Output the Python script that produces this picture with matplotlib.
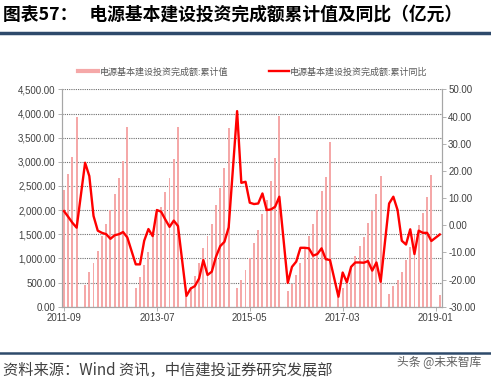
import matplotlib as mpl
mpl.rcParams['figure.dpi'] = 100
mpl.rcParams['savefig.dpi'] = 100
import matplotlib.pyplot as plt
import numpy as np
import pandas as pd
from matplotlib.ticker import FuncFormatter
from matplotlib.lines import Line2D

plt.rcParams['font.family'] = ['Liberation Sans', 'Noto Sans CJK SC', 'DejaVu Sans']

# 月份：2011-09 至 2019-02（1月无数据）
meses = [p.strftime('%Y-%m') for p in pd.period_range('2011-09', '2019-02', freq='M')]

# 电源基本建设投资完成额：累计值（亿元）
leiji = [2420, 2750, 3090, 3920,
         None, 440, 720, 900, 1145, 1455, 1710, 2000, 2335, 2675, 3010, 3725,
         None, 390, 621, 855, 1130, 1480, 1970, 2060, 2380, 2657, 3060, 3713,
         None, 220, 400, 640, 900, 1210, 1470, 1712, 2108, 2450, 2870, 3692,
         None, 395, 552, 766, 1000, 1311, 1580, 1912, 2218, 2595, 3071, 3948,
         None, 324, 462, 656, 911, 1187, 1463, 1712, 2001, 2395, 2692, 3402,
         None, 207, 380, 587, 828, 1056, 1263, 1449, 1725, 1981, 2326, 2705,
         None, 255, 428, 552, 725, 966, 1242, 1484, 1691, 1932, 2277, 2726,
         None, 242]

# 累计同比（%）
tongbi = [5.2, 3.1, 0.9, -0.9,
          None, 23.0, 18.1, 3.4, -2.0, -2.8, -3.3, -5.0, -3.7, -3.3, -2.5, -4.5,
          None, -14.4, -14.4, -5.7, -1.4, -4.0, 5.6, 5.0, 2.1, -0.6, 1.7, -0.3,
          None, -26.0, -23.3, -22.4, -19.6, -12.8, -18.3, -17.1, -11.6, -7.7, -6.1, -0.8,
          None, 42.0, 15.6, 16.0, 8.3, 7.8, 8.0, 11.7, 5.6, 5.8, 6.8, 10.5,
          None, -21.2, -15.3, -13.4, -8.3, -8.3, -8.5, -11.2, -10.6, -8.5, -12.5, -12.8,
          None, -26.3, -17.4, -21.0, -15.3, -13.7, -13.7, -13.8, -13.2, -16.7, -13.7, -20.8,
          None, 8.0, 10.5, 5.6, -5.7, -7.1, -1.5, -10.6, -2.0, -2.8, -2.8, -5.8,
          None, -3.4]

etiquetas = ['2011-09', '2013-07', '2015-05', '2017-03', '2019-01']

x = np.arange(len(meses))
b = np.array([np.nan if v is None else v for v in leiji], dtype=float)
t = np.array([np.nan if v is None else v for v in tongbi], dtype=float)
ok_b = ~np.isnan(b)
ok_t = ~np.isnan(t)

fig = plt.figure(figsize=(4.91, 3.82))
ax = fig.add_axes([0.126, 0.197, 0.774, 0.569])
ax2 = ax.twinx()

ax.bar(x[ok_b], b[ok_b], width=0.45, color='#F5A8A8', zorder=2)
linea, = ax2.plot(x[ok_t], t[ok_t], color='#FF0000', lw=1.7, zorder=3)

ax.set_xlim(-0.5, len(meses) - 0.5)
ax.set_ylim(0, 4500)
ax.set_yticks(np.arange(0, 4501, 500))
ax.yaxis.set_major_formatter(FuncFormatter(lambda v, p: '{:,.2f}'.format(v)))
ax2.set_ylim(-30, 50)
ax2.set_yticks(np.arange(-30, 51, 10))
ax2.yaxis.set_major_formatter(FuncFormatter(lambda v, p: '{:.2f}'.format(v)))

ax.set_xticks([meses.index(e) for e in etiquetas])
ax.set_xticklabels(etiquetas)

ax.grid(axis='y', color='#6E6E6E', ls=(0, (1, 1)), lw=0.8, zorder=0)
ax.set_axisbelow(True)

for a in (ax, ax2):
    a.spines['top'].set_visible(False)
    for s in ('left', 'right', 'bottom'):
        a.spines[s].set_color('#A6A6A6')
        a.spines[s].set_linewidth(0.8)
    a.tick_params(labelsize=7, colors='#404040', length=3, width=0.6, pad=1.5)
ax.tick_params(axis='x', color='#A6A6A6')
ax.tick_params(axis='y', color='#A6A6A6')
ax2.tick_params(axis='y', color='#A6A6A6')

# leyenda
h1 = Line2D([], [], color='#F5A8A8', lw=3)
fig.legend((h1, linea), ('电源基本建设投资完成额:累计值', '电源基本建设投资完成额:累计同比'),
           loc='center', bbox_to_anchor=(0.515, 0.812), ncol=2, frameon=False,
           prop={'family': ['Noto Sans CJK SC'], 'size': 6.5}, labelcolor='#595959',
           handlelength=2.2, handletextpad=0.2, columnspacing=4.5)

# titulo y pie
fig.text(0.006, 0.962, '图表57：   电源基本建设投资完成额累计值及同比（亿元）',
         fontsize=12.8, fontweight='bold', family=['Noto Sans CJK SC'],
         color='#000000', va='center', ha='left')
fig.add_artist(Line2D([0, 1], [0.913, 0.913], transform=fig.transFigure,
                      color='#2E4A6B', lw=2.5))
fig.add_artist(Line2D([0, 1], [0.075, 0.075], transform=fig.transFigure,
                      color='#2E4A6B', lw=1.8))
fig.text(0.006, 0.031, '资料来源：Wind 资讯，中信建投证券研究发展部',
         fontsize=11, family=['Noto Sans CJK SC'], color='#404040',
         va='center', ha='left')
fig.text(0.98, 0.052, '头条 @未来智库', fontsize=8.5, family=['Noto Sans CJK SC'],
         color='#606060', va='center', ha='right')

plt.savefig('out.png')
